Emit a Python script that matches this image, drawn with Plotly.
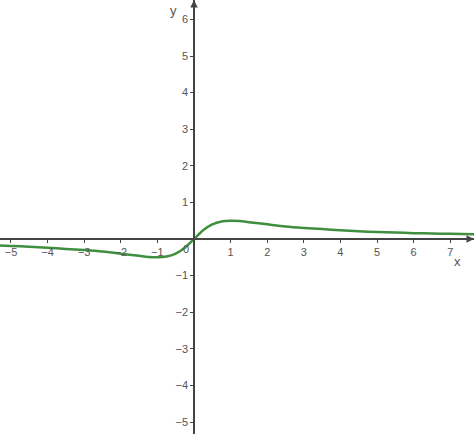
import plotly.graph_objects as go

# points
x_vals = [-5.3, -5, -4.5, -4, -3.5, -3, -2.5, -2, -1.5, -1.25, -1, -0.75, -0.5, -0.25, 0,
          0.25, 0.5, 0.75, 1, 1.25, 1.5, 2, 2.5, 3, 3.5, 4, 4.5, 5, 5.5, 6, 6.5, 7, 7.65]
y_vals = [-0.18, -0.19, -0.21, -0.24, -0.27, -0.30, -0.34, -0.40, -0.46, -0.49, -0.50, -0.48, -0.40, -0.24, 0.0,
          0.24, 0.40, 0.48, 0.50, 0.49, 0.46, 0.40, 0.34, 0.30, 0.27, 0.24, 0.21, 0.19, 0.18, 0.16, 0.15, 0.14, 0.13]

x_ticks = [-5, -4, -3, -2, -1, 1, 2, 3, 4, 5, 6, 7]
y_ticks = [-5, -4, -3, -2, -1, 1, 2, 3, 4, 5, 6]

x_range = [-5.30, 7.65]
y_range = [-5.328, 6.530]

axis_col = '#444444'
label_col = '#555555'

fig = go.Figure()
fig.add_trace(go.Scatter(
    x=x_vals, y=y_vals, mode='lines',
    line=dict(color='#3f8f3f', width=2.5, shape='spline', smoothing=0.8),
    hoverinfo='skip'
))

# positions of the zero lines in paper fractions
y0_frac = -y_range[0] / (y_range[1] - y_range[0])
x0_frac = -x_range[0] / (x_range[1] - x_range[0])

fig.update_layout(
    width=474, height=434,
    margin=dict(l=0, r=0, t=0, b=0, autoexpand=False),
    paper_bgcolor='white', plot_bgcolor='white',
    showlegend=False,
    font=dict(family='Liberation Sans, Arial', size=11, color=label_col),
    xaxis=dict(
        range=x_range, domain=[0, 1], anchor='free', position=y0_frac, automargin=False,
        showgrid=False, zeroline=False, showline=True, linecolor=axis_col, linewidth=1.5,
        tickvals=x_ticks, ticks='outside', ticklen=3, tickcolor=axis_col,
        tickfont=dict(size=11, color=label_col),
    ),
    yaxis=dict(
        range=y_range, domain=[0, 1], anchor='free', position=x0_frac, automargin=False,
        showgrid=False, zeroline=False, showline=True, linecolor=axis_col, linewidth=1.5,
        tickvals=y_ticks, ticks='outside', ticklen=3, tickcolor=axis_col,
        tickfont=dict(size=11, color=label_col),
    ),
)

# origin label and axis names
fig.add_annotation(x=-0.22, y=-0.28, text='0', showarrow=False, font=dict(size=11, color=label_col))
fig.add_annotation(x=7.2, y=-0.62, text='x', showarrow=False, font=dict(size=13, color=label_col))
fig.add_annotation(x=-0.55, y=6.25, text='y', showarrow=False, font=dict(size=13, color=label_col))

# arrow heads at the axis ends
fig.add_annotation(x=0, y=y_range[1], ax=0, ay=y_range[1] - 0.3, xref='x', yref='y',
                   axref='x', ayref='y', showarrow=True, arrowhead=2, arrowsize=1,
                   arrowwidth=1.5, arrowcolor=axis_col, text='')
fig.add_annotation(x=x_range[1], y=0, ax=x_range[1] - 0.3, ay=0, xref='x', yref='y',
                   axref='x', ayref='y', showarrow=True, arrowhead=2, arrowsize=1,
                   arrowwidth=1.5, arrowcolor=axis_col, text='')

# drop the page's default body margin so the chart fills the window
fig.write_html("out.html", config={'displayModeBar': False},
               post_script="document.body.style.margin='0';")
